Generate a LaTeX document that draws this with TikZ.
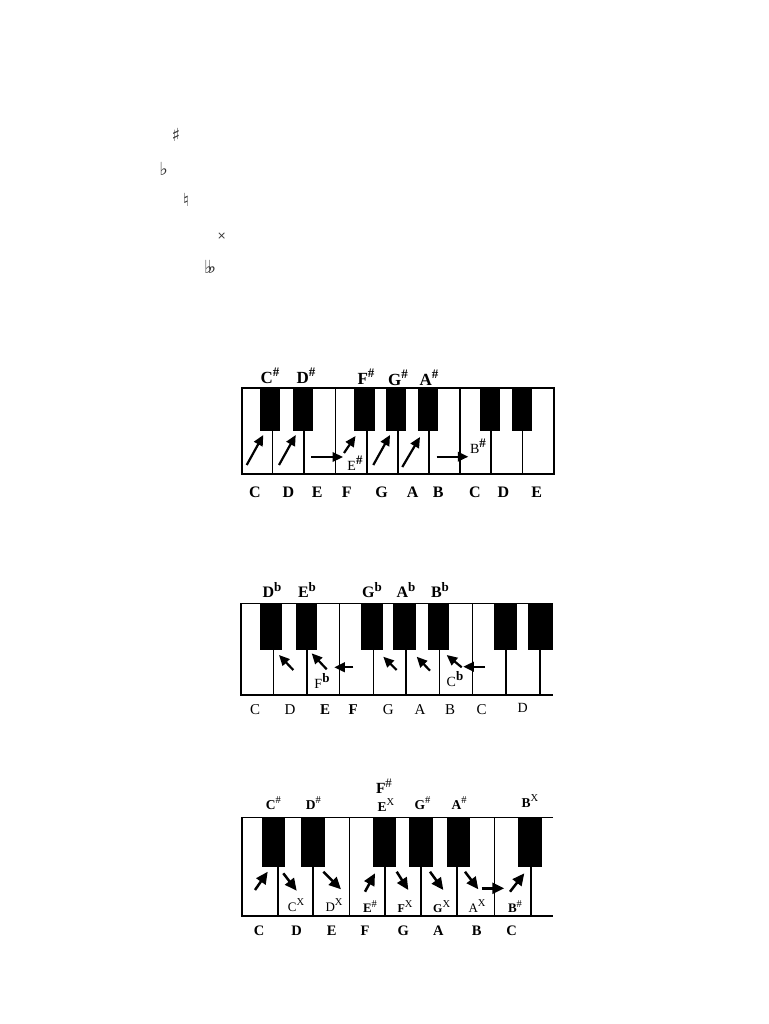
\documentclass[tikz,border=0pt]{standalone}
\usepackage{fontspec}
\setmainfont{Liberation Serif}
\newfontfamily\symfont{DejaVu Sans}
\usetikzlibrary{arrows.meta}
\newcommand{\up}[1]{\raisebox{0.40em}{\fontsize{13}{13}\selectfont #1}}
\newcommand{\ups}[1]{\raisebox{0.42em}{\fontsize{10.5}{10.5}\selectfont #1}}
\begin{document}
\begin{tikzpicture}[x=1pt,y=-1pt,
  lbl/.style={font=\fontsize{17}{17}\selectfont\bfseries, inner sep=0pt},
  bot/.style={font=\fontsize{16}{16}\selectfont\bfseries, inner sep=0pt},
  lbltwo/.style={font=\fontsize{16}{16}\selectfont\bfseries, inner sep=0pt},
  bottwo/.style={font=\fontsize{15}{15}\selectfont, inner sep=0pt},
  lblb/.style={font=\fontsize{13.5}{13.5}\selectfont\bfseries, inner sep=0pt},
  botthree/.style={font=\fontsize{14.5}{14.5}\selectfont\bfseries, inner sep=0pt},
  sm/.style={font=\fontsize{14}{14}\selectfont, inner sep=0pt},
  smthree/.style={font=\fontsize{13}{13}\selectfont, inner sep=0pt},
  keyline/.style={line width=1.6pt},
  blackkey/.style={fill=black},
  arr/.style={line width=2.2pt, -{Triangle[length=10.5pt,width=9.5pt]}},
  arrbig/.style={line width=2.5pt, -{Triangle[length=12pt,width=11pt]}},
  sym/.style={font=\symfont\fontsize{18}{18}\selectfont, text=black!80, inner sep=0pt}]
\useasboundingbox[fill=white] (0,0) rectangle (768,1024);

% accidental symbols
\node[sym] (s1) at (176,135) {♯};
\node[sym] (s2) at (163.5,168.5) {♭};
\node[sym] (s3) at (186,200) {♮};
\node[sym,font=\symfont\fontsize{11}{11}\selectfont] (s4) at (221.7,236) {×};
\node[sym] (s5) at (210,267) {♭\kern-5pt♭};

% ================= keyboard 1 =================
\draw[keyline] (241.7,388) rectangle (554,474);
\foreach \x in {272.3,304,366.7,397.7,429,491,522.3} \draw[keyline] (\x,430) -- (\x,474);
\foreach \x in {335.3,460} \draw[keyline] (\x,388) -- (\x,474);
\foreach \a/\b in {260/280,292.7/313.3,354.3/375,385.7/406,417.7/438.3,480/500,511.7/531.7}
  \fill[blackkey] (\a,388) rectangle (\b,430.5);

\node[lbl] (a1) at (270,376) {C\up{\#}};
\node[lbl] (a2) at (306,376) {D\up{\#}};
\node[lbl] (a3) at (366,377) {F\up{\#}};
\node[lbl] (a4) at (398,378) {G\up{\#}};
\node[lbl] (a5) at (429,378) {A\up{\#}};
\node[sm] (a6) at (355,463) {E\up{\textbf{\#}}};
\node[sm] (a7) at (478,446) {B\up{\textbf{\#}}};

\foreach \n/\x in {C/255,D/288.3,E/317.3,F/346.7,G/381.7,A/412.7,B/438.3,C/475,D/503.3,E/536.7}
  \node[bot] at (\x,492) {\n};

\coordinate (p1a) at (246.7,465); \coordinate (p1b) at (263.3,435);
\coordinate (p2a) at (279,465);   \coordinate (p2b) at (295.7,435);
\coordinate (p3a) at (311,457);   \coordinate (p3b) at (343,457);
\coordinate (p4a) at (344,453);   \coordinate (p4b) at (355.5,436);
\coordinate (p5a) at (373.3,465); \coordinate (p5b) at (390,435);
\coordinate (p6a) at (402.3,467); \coordinate (p6b) at (420,437);
\coordinate (p7a) at (436.7,456.7); \coordinate (p7b) at (468.3,456.7);
\foreach \i in {1,...,7} \draw[arr] (p\i a) -- (p\i b);

% ================= keyboard 2 =================
\draw[keyline] (553,603.3) -- (240.7,603.3) -- (240.7,695) -- (553,695);
\foreach \x in {273.3,306.7,373.3,406,439.3,506,540} \draw[keyline] (\x,649) -- (\x,695);
\foreach \x in {339.3,472.3} \draw[keyline] (\x,603.3) -- (\x,695);
\foreach \a/\b in {260/282.3,295.7/317.3,360.7/382.7,393.3/415.7,427.7/449.3,494.3/516.7,528.3/553}
  \fill[blackkey] (\a,603.3) rectangle (\b,649.5);

\node[lbltwo] (b1) at (272,590) {D\up{b}};
\node[lbltwo] (b2) at (307,590) {E\up{b}};
\node[lbltwo] (b3) at (372,590) {G\up{b}};
\node[lbltwo] (b4) at (406,590) {A\up{b}};
\node[lbltwo] (b5) at (440,590) {B\up{b}};
\node[sm] (b6) at (322,681) {F\up{\textbf{b}}};
\node[sm] (b7) at (455,679) {C\up{\textbf{b}}};

\foreach \n/\x in {C/255,D/290,G/388.3,A/420,B/450,C/481.7}
  \node[bottwo] at (\x,710) {\n};
\foreach \n/\x in {E/325,F/353.3}
  \node[bottwo,font=\fontsize{15}{15}\selectfont\bfseries] at (\x,710) {\n};
\node[sm] at (522.7,708) {D};

\coordinate (q1a) at (293.3,670);   \coordinate (q1b) at (279,655);
\coordinate (q2a) at (326.7,669.3); \coordinate (q2b) at (311.7,653.3);
\coordinate (q3a) at (353.3,667.3); \coordinate (q3b) at (334.3,667.3);
\coordinate (q4a) at (396.7,670);   \coordinate (q4b) at (383.3,656.7);
\coordinate (q5a) at (430,670.7);   \coordinate (q5b) at (416.7,656.7);
\coordinate (q6a) at (461.7,667.3); \coordinate (q6b) at (446.7,655);
\coordinate (q7a) at (485,666.7);   \coordinate (q7b) at (463.3,666.7);
\foreach \i in {1,...,7} \draw[arr] (q\i a) -- (q\i b);

% ================= keyboard 3 =================
\draw[keyline] (553,817.3) -- (241.7,817.3) -- (241.7,916) -- (553,916);
\foreach \x in {277.7,312.7,385,421,456.7,531} \draw[keyline] (\x,866.7) -- (\x,916);
\foreach \x in {349.3,494.3} \draw[keyline] (\x,817.3) -- (\x,916);
\foreach \a/\b in {261.7/285,301/325,372.7/396,409.3/432.7,446.7/470,518.3/541.7}
  \fill[blackkey] (\a,817.3) rectangle (\b,867);

\node[lblb] (c1) at (273.3,803) {C\ups{\normalfont\#}};
\node[lblb] (c2) at (313.3,803) {D\ups{\normalfont\#}};
\node[lbl,font=\fontsize{15.5}{15.5}\selectfont\bfseries] (c3) at (384,786) {F\up{\normalfont\#}};
\node[lblb] (c4) at (386,805) {E\ups{\normalfont X}};
\node[lblb] (c5) at (422.5,803) {G\ups{\normalfont\#}};
\node[lblb] (c6) at (459,803) {A\ups{\normalfont\#}};
\node[lblb] (c7) at (530,801) {B\ups{\normalfont X}};
\node[smthree] (c8) at (296,905) {C\ups{X}};
\node[smthree] (c9) at (334,905) {D\ups{X}};
\node[smthree,font=\fontsize{13}{13}\selectfont\bfseries] (c10) at (370,906.7) {E\ups{\normalfont\#}};
\node[smthree,font=\fontsize{12}{12}\selectfont\bfseries] (c11) at (405,906.7) {F\ups{\normalfont X}};
\node[smthree,font=\fontsize{12}{12}\selectfont\bfseries] (c12) at (441.7,906.7) {G\ups{\normalfont X}};
\node[smthree] (c13) at (477,906) {A\ups{X}};
\node[smthree,font=\fontsize{13}{13}\selectfont\bfseries] (c14) at (515,906.7) {B\ups{\normalfont\#}};

\foreach \n/\x in {C/259,D/296.7,E/331.7,F/365,G/403.3,A/438.3,B/476.7,C/511.7}
  \node[botthree] at (\x,930.5) {\n};

\coordinate (r1a) at (255,890);     \coordinate (r1b) at (267.7,871.7);
\coordinate (r2a) at (283.3,873.3); \coordinate (r2b) at (296.7,890.7);
\coordinate (r3a) at (323.3,871.7); \coordinate (r3b) at (341,889.3);
\coordinate (r4a) at (365,891.7);   \coordinate (r4b) at (375,873.3);
\coordinate (r5a) at (396.7,871.7); \coordinate (r5b) at (408.3,890);
\coordinate (r6a) at (430,871.7);   \coordinate (r6b) at (443.3,890);
\coordinate (r7a) at (465,871.7);   \coordinate (r7b) at (478.3,889.3);
\coordinate (r8a) at (481.7,888.3); \coordinate (r8b) at (504.3,888.3);
\coordinate (r9a) at (510,891.7);   \coordinate (r9b) at (524.3,873.3);
\foreach \i in {1,...,9} \draw[arrbig] (r\i a) -- (r\i b);
\end{tikzpicture}
\end{document}
